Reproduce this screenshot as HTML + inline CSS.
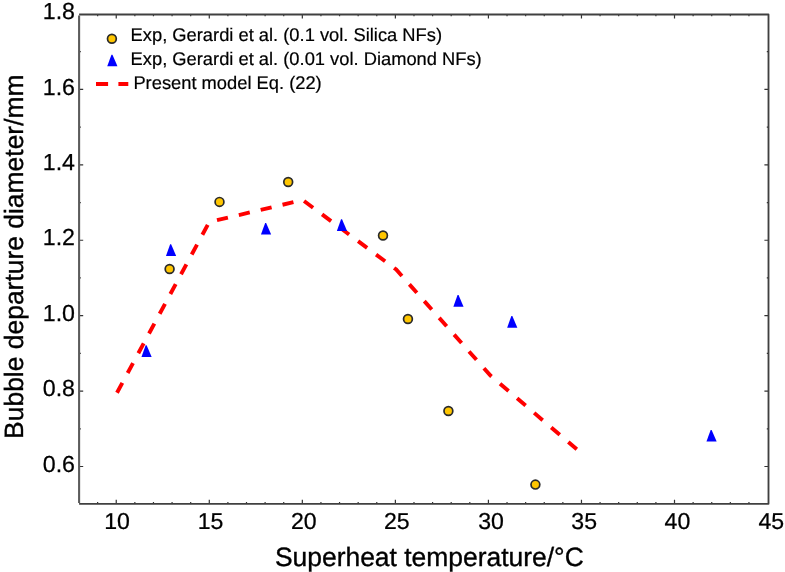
<!DOCTYPE html><html><head><meta charset="utf-8"><title>Bubble departure diameter</title>
<style>html,body{margin:0;padding:0;background:#fff}svg{display:block}text{text-rendering:geometricPrecision;font-family:"Liberation Sans",Arial,Helvetica,sans-serif;fill:#000}</style></head><body>
<svg width="785" height="572" viewBox="0 0 785 572">
<rect width="785" height="572" fill="#fff"/>
<path d="M97.63,503.8v-1.7M97.63,14.5v1.7M116.24,503.8v-4.1M116.24,14.5v4.1M134.85,503.8v-1.7M134.85,14.5v1.7M153.46,503.8v-1.7M153.46,14.5v1.7M172.07,503.8v-1.7M172.07,14.5v1.7M190.68,503.8v-1.7M190.68,14.5v1.7M209.29,503.8v-4.1M209.29,14.5v4.1M227.89,503.8v-1.7M227.89,14.5v1.7M246.50,503.8v-1.7M246.50,14.5v1.7M265.11,503.8v-1.7M265.11,14.5v1.7M283.72,503.8v-1.7M283.72,14.5v1.7M302.33,503.8v-4.1M302.33,14.5v4.1M320.94,503.8v-1.7M320.94,14.5v1.7M339.55,503.8v-1.7M339.55,14.5v1.7M358.16,503.8v-1.7M358.16,14.5v1.7M376.77,503.8v-1.7M376.77,14.5v1.7M395.38,503.8v-4.1M395.38,14.5v4.1M413.98,503.8v-1.7M413.98,14.5v1.7M432.59,503.8v-1.7M432.59,14.5v1.7M451.20,503.8v-1.7M451.20,14.5v1.7M469.81,503.8v-1.7M469.81,14.5v1.7M488.42,503.8v-4.1M488.42,14.5v4.1M507.03,503.8v-1.7M507.03,14.5v1.7M525.64,503.8v-1.7M525.64,14.5v1.7M544.25,503.8v-1.7M544.25,14.5v1.7M562.86,503.8v-1.7M562.86,14.5v1.7M581.47,503.8v-4.1M581.47,14.5v4.1M600.07,503.8v-1.7M600.07,14.5v1.7M618.68,503.8v-1.7M618.68,14.5v1.7M637.29,503.8v-1.7M637.29,14.5v1.7M655.90,503.8v-1.7M655.90,14.5v1.7M674.51,503.8v-4.1M674.51,14.5v4.1M693.12,503.8v-1.7M693.12,14.5v1.7M711.73,503.8v-1.7M711.73,14.5v1.7M730.34,503.8v-1.7M730.34,14.5v1.7M748.95,503.8v-1.7M748.95,14.5v1.7M79.1,466.50h4.1M768.5,466.50h-4.1M79.1,428.79h1.7M768.5,428.79h-1.7M79.1,391.08h4.1M768.5,391.08h-4.1M79.1,353.37h1.7M768.5,353.37h-1.7M79.1,315.66h4.1M768.5,315.66h-4.1M79.1,277.95h1.7M768.5,277.95h-1.7M79.1,240.24h4.1M768.5,240.24h-4.1M79.1,202.53h1.7M768.5,202.53h-1.7M79.1,164.82h4.1M768.5,164.82h-4.1M79.1,127.11h1.7M768.5,127.11h-1.7M79.1,89.40h4.1M768.5,89.40h-4.1M79.1,51.69h1.7M768.5,51.69h-1.7" stroke="#333" stroke-width="1.2" fill="none"/>
<path d="M79.1,14.5H768.5V503.8H79.1" fill="none" stroke="#404040" stroke-width="1.85" stroke-linejoin="round"/>
<path d="M79.1,502.9V15.4" fill="none" stroke="#5c5c5c" stroke-width="2.1"/>
<text transform="translate(117.10,528.9) scale(1,0.995)" font-size="23.1" text-anchor="middle" stroke="#000" stroke-width="0.25">10</text>
<text transform="translate(210.50,528.9) scale(1,0.995)" font-size="23.1" text-anchor="middle" stroke="#000" stroke-width="0.25">15</text>
<text transform="translate(303.80,528.9) scale(1,0.995)" font-size="23.1" text-anchor="middle" stroke="#000" stroke-width="0.25">20</text>
<text transform="translate(396.85,528.9) scale(1,0.995)" font-size="23.1" text-anchor="middle" stroke="#000" stroke-width="0.25">25</text>
<text transform="translate(491.00,528.9) scale(1,0.995)" font-size="23.1" text-anchor="middle" stroke="#000" stroke-width="0.25">30</text>
<text transform="translate(584.15,528.9) scale(1,0.995)" font-size="23.1" text-anchor="middle" stroke="#000" stroke-width="0.25">35</text>
<text transform="translate(677.45,528.9) scale(1,0.995)" font-size="23.1" text-anchor="middle" stroke="#000" stroke-width="0.25">40</text>
<text transform="translate(771.35,528.9) scale(1,0.995)" font-size="23.1" text-anchor="middle" stroke="#000" stroke-width="0.25">45</text>
<text transform="translate(75.0,471.60) scale(1,1.0)" font-size="23.2" text-anchor="end" stroke="#000" stroke-width="0.25">0.6</text>
<text transform="translate(75.0,396.18) scale(1,1.0)" font-size="23.2" text-anchor="end" stroke="#000" stroke-width="0.25">0.8</text>
<text transform="translate(75.0,320.76) scale(1,1.0)" font-size="23.2" text-anchor="end" stroke="#000" stroke-width="0.25">1.0</text>
<text transform="translate(75.0,245.34) scale(1,1.0)" font-size="23.2" text-anchor="end" stroke="#000" stroke-width="0.25">1.2</text>
<text transform="translate(75.0,169.92) scale(1,1.0)" font-size="23.2" text-anchor="end" stroke="#000" stroke-width="0.25">1.4</text>
<text transform="translate(75.0,94.50) scale(1,1.0)" font-size="23.2" text-anchor="end" stroke="#000" stroke-width="0.25">1.6</text>
<text transform="translate(75.0,19.08) scale(1,1.0)" font-size="23.2" text-anchor="end" stroke="#000" stroke-width="0.25">1.8</text>
<text x="274.9" y="566.0" font-size="26.45" stroke="#000" stroke-width="0.35">Superheat temperature/°C</text>
<text transform="translate(22.8,438.9) rotate(-90)" font-size="26.45" stroke="#000" stroke-width="0.35">Bubble departure diameter/mm</text>
<path d="M117.0,392.7 L209.3,222.0 L302.7,200.0 L396.2,269.5 L490.5,375.6 L576.8,449.3" fill="none" stroke="#ff0000" stroke-width="3.9" stroke-dasharray="11.22 11.22" stroke-linejoin="miter"/>
<circle cx="169.6" cy="269.0" r="4.4" fill="#ffc600" stroke="#2a2a2a" stroke-width="1.7"/>
<circle cx="219.5" cy="201.9" r="4.4" fill="#ffc600" stroke="#2a2a2a" stroke-width="1.7"/>
<circle cx="288.2" cy="182.0" r="4.4" fill="#ffc600" stroke="#2a2a2a" stroke-width="1.7"/>
<circle cx="383.0" cy="235.5" r="4.4" fill="#ffc600" stroke="#2a2a2a" stroke-width="1.7"/>
<circle cx="407.95" cy="319.05" r="4.4" fill="#ffc600" stroke="#2a2a2a" stroke-width="1.7"/>
<circle cx="448.4" cy="411.05" r="4.4" fill="#ffc600" stroke="#2a2a2a" stroke-width="1.7"/>
<circle cx="535.4" cy="484.6" r="4.4" fill="#ffc600" stroke="#2a2a2a" stroke-width="1.7"/>
<circle cx="111.9" cy="38.75" r="4.4" fill="#ffc600" stroke="#2a2a2a" stroke-width="1.7"/>
<path d="M141.45,356.90h10.2l-5,-11.6h-1z" fill="#0000ff"/>
<path d="M165.95,255.90h10.2l-5,-11.6h-1z" fill="#0000ff"/>
<path d="M260.95,234.50h10.2l-5,-11.6h-1z" fill="#0000ff"/>
<path d="M336.85,230.90h10.2l-5,-11.6h-1z" fill="#0000ff"/>
<path d="M453.35,306.70h10.2l-5,-11.6h-1z" fill="#0000ff"/>
<path d="M507.15,327.70h10.2l-5,-11.6h-1z" fill="#0000ff"/>
<path d="M706.45,441.50h10.2l-5,-11.6h-1z" fill="#0000ff"/>
<path d="M107.25,66.25h10.2l-5,-11.6h-1z" fill="#0000ff"/>
<path d="M96.0,84.0h12.1M118.4,84.0h9.9" stroke="#ff0000" stroke-width="4" fill="none"/>
<text x="130.6" y="40.9" stroke="#000" stroke-width="0.2" font-size="18.32">Exp, Gerardi et al. (0.1 vol. Silica NFs)</text>
<text x="130.6" y="64.8" stroke="#000" stroke-width="0.2" font-size="18.32">Exp, Gerardi et al. (0.01 vol. Diamond NFs)</text>
<text x="133.4" y="89.3" stroke="#000" stroke-width="0.2" font-size="18.32">Present model Eq. (22)</text>
</svg></body></html>
